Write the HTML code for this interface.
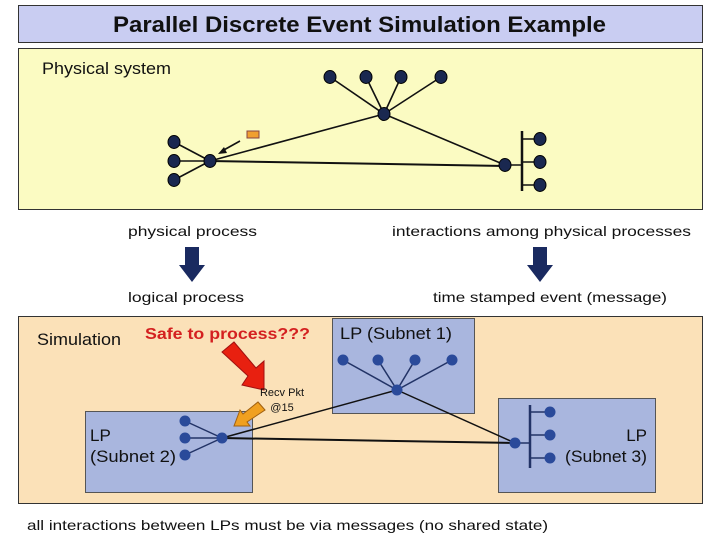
<!DOCTYPE html>
<html><head><meta charset="utf-8"><style>
body{margin:0;background:#fff;}
svg text{font-family:"Liberation Sans",sans-serif;}
</style></head><body>
<svg width="720" height="540" viewBox="0 0 720 540" xmlns="http://www.w3.org/2000/svg">
<rect width="720" height="540" fill="#fff"/>
<rect x="18.5" y="5.5" width="684" height="37" fill="#c9cdf2" stroke="#333"/>
<text x="113" y="32" font-size="22" font-weight="bold" fill="#111" textLength="493" lengthAdjust="spacingAndGlyphs">Parallel Discrete Event Simulation Example</text>
<rect x="18.5" y="48.5" width="684" height="161" fill="#fbfbc2" stroke="#333"/>
<text x="42" y="74" font-size="17" fill="#111" textLength="129" lengthAdjust="spacingAndGlyphs">Physical system</text>
<g stroke="#111" stroke-width="1.6">
<line x1="384" y1="114" x2="330" y2="77"/><line x1="384" y1="114" x2="366" y2="77"/><line x1="384" y1="114" x2="401" y2="77"/><line x1="384" y1="114" x2="441" y2="77"/>
<line x1="384" y1="114" x2="210" y2="161"/><line x1="384" y1="114" x2="505" y2="165"/>
<line x1="210" y1="161" x2="505" y2="166" stroke-width="2"/>
<line x1="210" y1="161" x2="174" y2="142"/><line x1="210" y1="161" x2="174" y2="161"/><line x1="210" y1="161" x2="174" y2="180"/>
<line x1="522" y1="131" x2="522" y2="191" stroke-width="2.5"/>
<line x1="505" y1="165" x2="522" y2="165"/><line x1="522" y1="139" x2="540" y2="139"/><line x1="522" y1="162" x2="540" y2="162"/><line x1="522" y1="185" x2="540" y2="185"/>
<line x1="240" y1="141" x2="222" y2="151"/>
</g>
<polygon points="218,154 224,147 227,153" fill="#111"/>
<rect x="247" y="131" width="12" height="7" fill="#f0a030" stroke="#844"/>
<g fill="#1a2850" stroke="#000">
<ellipse cx="330" cy="77" rx="6" ry="6.5"/><ellipse cx="366" cy="77" rx="6" ry="6.5"/><ellipse cx="401" cy="77" rx="6" ry="6.5"/><ellipse cx="441" cy="77" rx="6" ry="6.5"/>
<ellipse cx="384" cy="114" rx="6" ry="6.5"/>
<ellipse cx="174" cy="142" rx="6" ry="6.5"/><ellipse cx="174" cy="161" rx="6" ry="6.5"/><ellipse cx="174" cy="180" rx="6" ry="6.5"/>
<ellipse cx="210" cy="161" rx="6" ry="6.5"/>
<ellipse cx="505" cy="165" rx="6" ry="6.5"/>
<ellipse cx="540" cy="139" rx="6" ry="6.5"/><ellipse cx="540" cy="162" rx="6" ry="6.5"/><ellipse cx="540" cy="185" rx="6" ry="6.5"/>
</g>
<text x="128" y="236" font-size="14" fill="#111" textLength="129" lengthAdjust="spacingAndGlyphs">physical process</text>
<text x="392" y="236" font-size="14" fill="#111" textLength="299" lengthAdjust="spacingAndGlyphs">interactions among physical processes</text>
<polygon points="185,247 199,247 199,265 205,265 192,282 179,265 185,265" fill="#1a2a60"/>
<polygon points="533,247 547,247 547,265 553,265 540,282 527,265 533,265" fill="#1a2a60"/>
<text x="128" y="302" font-size="14" fill="#111" textLength="116" lengthAdjust="spacingAndGlyphs">logical process</text>
<text x="433" y="302" font-size="14" fill="#111" textLength="234" lengthAdjust="spacingAndGlyphs">time stamped event (message)</text>
<rect x="18.5" y="316.5" width="684" height="187" fill="#fbe1b8" stroke="#333"/>
<text x="37" y="345" font-size="17" fill="#111" textLength="84" lengthAdjust="spacingAndGlyphs">Simulation</text>
<text x="145" y="339" font-size="16" font-weight="bold" fill="#d42020" textLength="165" lengthAdjust="spacingAndGlyphs">Safe to process???</text>
<rect x="332.5" y="318.5" width="142" height="95" fill="#a9b6de" stroke="#555"/>
<text x="340" y="339" font-size="17" fill="#111" textLength="112" lengthAdjust="spacingAndGlyphs">LP (Subnet 1)</text>
<rect x="85.5" y="411.5" width="167" height="81" fill="#a9b6de" stroke="#555"/>
<text x="90" y="441" font-size="17" fill="#111">LP</text>
<text x="90" y="462" font-size="17" fill="#111" textLength="86" lengthAdjust="spacingAndGlyphs">(Subnet 2)</text>
<rect x="498.5" y="398.5" width="157" height="94" fill="#a9b6de" stroke="#555"/>
<text x="647" y="441" font-size="17" fill="#111" text-anchor="end">LP</text>
<text x="565" y="462" font-size="17" fill="#111" textLength="82" lengthAdjust="spacingAndGlyphs">(Subnet 3)</text>
<g stroke="#223366" stroke-width="1.5">
<line x1="397" y1="390" x2="343" y2="360"/><line x1="397" y1="390" x2="378" y2="360"/><line x1="397" y1="390" x2="415" y2="360"/><line x1="397" y1="390" x2="452" y2="360"/>
<line x1="185" y1="421" x2="222" y2="438"/><line x1="185" y1="438" x2="222" y2="438"/><line x1="185" y1="455" x2="222" y2="438"/>
<line x1="530" y1="405" x2="530" y2="468" stroke-width="2.5"/>
<line x1="515" y1="443" x2="530" y2="443"/><line x1="530" y1="412" x2="550" y2="412"/><line x1="530" y1="435" x2="550" y2="435"/><line x1="530" y1="458" x2="550" y2="458"/>
</g>
<g stroke="#111" stroke-width="1.5">
<line x1="222" y1="438" x2="397" y2="390"/>
<line x1="222" y1="438" x2="515" y2="443" stroke-width="2"/>
<line x1="397" y1="390" x2="515" y2="443"/>
</g>
<g fill="#2a4a9a">
<circle cx="343" cy="360" r="5.5"/><circle cx="378" cy="360" r="5.5"/><circle cx="415" cy="360" r="5.5"/><circle cx="452" cy="360" r="5.5"/>
<circle cx="397" cy="390" r="5.5"/>
<circle cx="185" cy="421" r="5.5"/><circle cx="185" cy="438" r="5.5"/><circle cx="185" cy="455" r="5.5"/>
<circle cx="222" cy="438" r="5.5"/>
<circle cx="515" cy="443" r="5.5"/>
<circle cx="550" cy="412" r="5.5"/><circle cx="550" cy="435" r="5.5"/><circle cx="550" cy="458" r="5.5"/>
</g>
<polygon points="222,352 234,342 256,368 264,361 264,390 242,385 248,376" fill="#e82010" stroke="#a01010"/>
<polygon points="265,410 258,402 243,414 240,410 234,426 250,426 247,422" fill="#f0a020" stroke="#a06010"/>
<text x="282" y="396" font-size="11" fill="#111" text-anchor="middle">Recv Pkt</text>
<text x="282" y="411" font-size="11" fill="#111" text-anchor="middle">@15</text>
<text x="27" y="530" font-size="14" fill="#111" textLength="521" lengthAdjust="spacingAndGlyphs">all interactions between LPs must be via messages (no shared state)</text>
</svg>
</body></html>
